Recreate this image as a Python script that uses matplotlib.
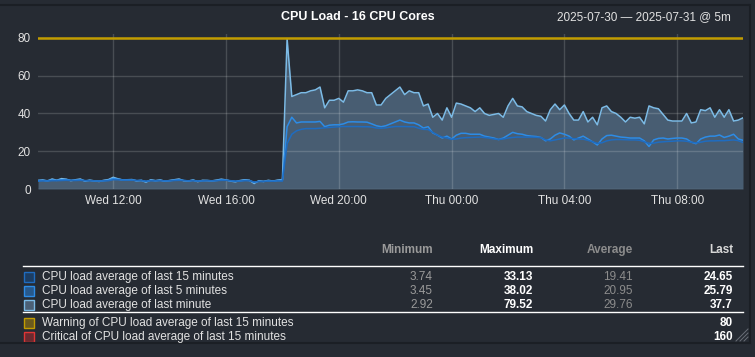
import numpy as np
import pandas as pd
import matplotlib
matplotlib.use('Agg')
import matplotlib.pyplot as plt
import matplotlib.dates as mdates
from matplotlib.patches import Rectangle
from matplotlib.lines import Line2D

# 10 minute samples from Wed 09:20 to Thu 10:20
times = pd.date_range('2025-07-30 09:20', periods=151, freq='10min')

load_1m = [
    4.5, 4.8, 4.2, 5.3, 4.6, 5.5, 5.2, 4.4, 4.9, 5.3,
    4.1, 4.7, 4.3, 4.0, 4.6, 5.0, 6.2, 5.4, 4.8, 4.9,
    5.0, 4.3, 4.6, 3.6, 4.9, 4.4, 4.8, 4.1, 4.5, 4.9,
    5.3, 4.4, 4.2, 4.8, 3.9, 4.6, 4.5, 4.3, 4.7, 5.2,
    4.8, 4.2, 3.8, 4.5, 4.9, 4.6, 2.92, 4.4, 4.0, 4.6,
    4.2, 4.7, 5.0, 79.52, 49.0, 50.0, 51.0, 51.0, 52.0, 52.5,
    54.0, 43.0, 47.0, 47.0, 48.0, 46.0, 52.0, 52.0, 52.5, 52.0,
    51.0, 51.0, 44.5, 44.5, 48.0, 50.0, 52.0, 54.0, 50.0, 52.0,
    51.0, 51.0, 44.0, 45.0, 38.0, 40.0, 36.5, 43.0, 38.0, 45.5,
    45.0, 44.0, 43.0, 41.0, 43.0, 40.0, 39.0, 39.5, 40.0, 38.0,
    44.0, 48.0, 44.0, 43.5, 41.0, 40.0, 39.0, 38.5, 36.0, 42.0,
    45.0, 42.0, 44.5, 40.0, 36.5, 36.5, 41.0, 35.5, 38.0, 34.0,
    43.0, 44.0, 41.0, 40.0, 38.0, 35.5, 38.0, 37.5, 38.0, 34.5,
    44.0, 43.0, 42.5, 39.5, 36.5, 36.0, 36.0, 36.0, 40.0, 35.0,
    35.5, 42.0, 41.5, 43.0, 38.0, 42.0, 38.0, 42.0, 36.0, 36.5,
    37.7,
]

load_5m = [
    4.5, 4.6, 4.4, 4.8, 4.6, 4.9, 5.0, 4.6, 4.7, 4.9,
    4.4, 4.5, 4.3, 4.2, 4.4, 4.7, 5.6, 5.2, 4.8, 4.8,
    4.8, 4.4, 4.5, 3.9, 4.6, 4.4, 4.6, 4.2, 4.4, 4.7,
    4.9, 4.5, 4.3, 4.6, 4.1, 4.4, 4.5, 4.3, 4.5, 4.9,
    4.7, 4.3, 4.0, 4.3, 4.7, 4.5, 3.45, 4.1, 4.0, 4.4,
    4.2, 4.5, 4.6, 33.0, 38.02, 35.0, 35.5, 35.5, 35.5, 35.5,
    35.8, 33.0, 33.8, 34.0, 34.0, 34.5, 35.5, 35.6, 35.5, 35.5,
    35.4, 34.5, 33.5, 33.0, 33.5, 34.5, 35.5, 36.5, 35.5, 35.0,
    35.0, 34.0, 32.3, 33.0, 29.7, 28.5, 27.0, 28.0, 26.5, 28.5,
    29.5, 29.5, 29.0, 29.0, 29.0, 28.0, 27.5, 27.0, 26.2, 27.0,
    28.5, 30.0, 29.3, 29.0, 28.3, 28.0, 27.8, 27.3, 25.5, 26.5,
    28.5, 29.7, 29.0, 28.0, 26.0, 27.0, 28.0, 26.5, 25.0, 23.3,
    26.5, 28.3, 28.5, 28.0, 27.5, 27.3, 27.0, 27.0, 27.0, 25.5,
    22.5, 26.0, 26.8, 27.0, 26.5, 26.8, 27.0, 27.0, 26.5, 24.8,
    24.0, 26.5, 27.5, 28.0, 28.0, 28.6, 27.3, 28.0, 29.0, 26.5,
    25.79,
]

load_15m = [
    4.2, 4.3, 4.2, 4.4, 4.4, 4.5, 4.6, 4.5, 4.5, 4.6,
    4.4, 4.4, 4.3, 4.2, 4.3, 4.4, 4.9, 4.9, 4.7, 4.7,
    4.7, 4.5, 4.5, 4.2, 4.4, 4.3, 4.4, 4.3, 4.3, 4.5,
    4.6, 4.5, 4.3, 4.4, 4.2, 4.3, 4.4, 4.3, 4.4, 4.6,
    4.6, 4.4, 4.2, 4.2, 4.4, 4.4, 3.74, 4.0, 4.0, 4.2,
    4.1, 4.3, 4.2, 24.0, 29.0, 30.8, 31.6, 32.0, 32.0, 32.0,
    32.2, 32.4, 32.6, 32.8, 33.0, 33.1, 33.1, 33.13, 33.1, 33.0,
    33.0, 32.8, 32.3, 32.2, 32.4, 32.8, 33.1, 33.1, 33.1, 33.0,
    33.0, 32.2, 31.6, 31.5, 30.0, 28.5, 27.5, 27.0, 26.3, 26.5,
    27.0, 27.2, 27.3, 27.4, 27.5, 27.3, 27.0, 26.5, 26.2, 26.5,
    27.0, 27.3, 27.5, 27.5, 27.5, 27.5, 27.4, 27.2, 26.0, 25.5,
    26.0, 26.5, 27.0, 27.0, 26.6, 26.5, 26.4, 25.8, 25.0, 24.2,
    24.5, 25.5, 26.0, 26.2, 26.2, 26.1, 26.0, 26.0, 25.8, 25.0,
    24.2, 24.3, 24.8, 25.0, 25.2, 25.3, 25.5, 25.5, 25.3, 24.8,
    24.4, 24.8, 25.3, 25.5, 25.5, 25.6, 25.6, 25.8, 26.0, 25.6,
    24.65,
]

warning_level = 80
critical_level = 160

series_labels = [
    'CPU load average of last 15 minutes',
    'CPU load average of last 5 minutes',
    'CPU load average of last minute',
]
stat_minimum = ['3.74', '3.45', '2.92']
stat_maximum = ['33.13', '38.02', '79.52']
stat_average = ['19.41', '20.95', '29.76']
stat_last = ['24.65', '25.79', '37.7']
threshold_labels = [
    'Warning of CPU load average of last 15 minutes',
    'Critical of CPU load average of last 15 minutes',
]
threshold_last = ['80', '160']

# colours
bg = '#262b33'
text_col = '#e2e2e2'
c15_line, c15_face = '#1f6cc0', '#1d3d62'
c5_line, c5_face = '#2d8ce6', '#27598c'
c1_line, c1_face = '#7cbbe6', '#4b6076'
warn_line, warn_face = '#c29c00', '#6a5a1e'
crit_line, crit_face = '#e03535', '#6a2a30'

plt.rcParams['font.family'] = ['Liberation Sans', 'DejaVu Sans']

W, H = 755, 357
fig = plt.figure(figsize=(W / 100, H / 100), dpi=100, facecolor=bg)


def fx(x):
    return x / W


def fy(y):
    return 1 - y / H


# outer frame
fig.add_artist(Line2D([0, fx(750)], [fy(5), fy(5)], color='#1b1f25', lw=1.5))
fig.add_artist(Line2D([fx(750), fx(750)], [fy(5), fy(343)], color='#1b1f25', lw=1.5))
fig.add_artist(Line2D([0, fx(750)], [fy(343), fy(343)], color='#1b1f25', lw=1.5))

ax = fig.add_axes([fx(38), fy(189), (743 - 38) / W, (189 - 34) / H])
ax.set_facecolor(bg)
for s in ax.spines.values():
    s.set_visible(False)

ax.fill_between(times, load_1m, color=c1_face, alpha=0.95, lw=0, zorder=1)
ax.plot(times, load_1m, color=c1_line, lw=1.1, zorder=2)
ax.plot(times, load_5m, color=c5_line, lw=1.1, zorder=2)
ax.plot(times, load_15m, color=c15_line, lw=1.1, zorder=2)
ax.axhline(warning_level, color=warn_line, lw=1.8, zorder=3)

ax.set_ylim(0, 82.1)
ax.set_xlim(times[0], times[-1])
ax.set_yticks([0, 20, 40, 60, 80])
ax.xaxis.set_major_locator(mdates.HourLocator(byhour=[0, 4, 8, 12, 16, 20]))
ax.xaxis.set_major_formatter(mdates.DateFormatter('%a %H:%M'))
ax.grid(True, color='white', alpha=0.16, lw=1)
ax.set_axisbelow('line')
ax.tick_params(colors=text_col, labelsize=8.5, length=0, pad=4)
ax.tick_params(axis='y', pad=5)

fig.text(fx(358), fy(17), 'CPU Load - 16 CPU Cores', color='white', fontsize=9,
         fontweight='bold', ha='center', va='center')
fig.text(fx(731), fy(17), '2025-07-30 \u2014 2025-07-31 @ 5m', color=text_col,
         fontsize=8.5, ha='right', va='center')

# statistics table
cols = [433, 533, 633, 733]
heads = ['Minimum', 'Maximum', 'Average', 'Last']
head_cols = ['#9a9a9a', '#ffffff', '#8c8c8c', '#d8d8d8']
for x, h, c in zip(cols, heads, head_cols):
    fig.text(fx(x), fy(250), h, color=c, fontsize=8.5, fontweight='bold',
             ha='right', va='center')

fig.add_artist(Line2D([fx(23), fx(743)], [fy(266), fy(266)], color='white', lw=1))
fig.add_artist(Line2D([fx(23), fx(743)], [fy(312), fy(312)], color='white', lw=1))

row_y = [277, 291, 305]
faces = [c15_face, c5_face, c1_face]
edges = [c15_line, c5_line, c1_line]
for i, y in enumerate(row_y):
    fig.add_artist(Rectangle((fx(23.5), fy(y + 5)), 10 / W, 10 / H,
                             facecolor=faces[i], edgecolor=edges[i], lw=1))
    fig.text(fx(42), fy(y), series_labels[i], color=text_col, fontsize=8.5,
             ha='left', va='center')
    fig.text(fx(cols[0]), fy(y), stat_minimum[i], color='#9a9a9a', fontsize=8.5,
             ha='right', va='center')
    fig.text(fx(cols[1]), fy(y), stat_maximum[i], color='white', fontsize=8.5,
             fontweight='bold', ha='right', va='center')
    fig.text(fx(cols[2]), fy(y), stat_average[i], color='#8c8c8c', fontsize=8.5,
             ha='right', va='center')
    fig.text(fx(cols[3]), fy(y), stat_last[i], color='white', fontsize=8.5,
             fontweight='bold', ha='right', va='center')

th_y = [323, 337]
th_faces = [warn_face, crit_face]
th_edges = [warn_line, crit_line]
for i, y in enumerate(th_y):
    fig.add_artist(Rectangle((fx(23.5), fy(y + 5)), 10 / W, 10 / H,
                             facecolor=th_faces[i], edgecolor=th_edges[i], lw=1))
    fig.text(fx(42), fy(y), threshold_labels[i], color=text_col, fontsize=8.5,
             ha='left', va='center')
    fig.text(fx(cols[3]), fy(y), threshold_last[i], color='white', fontsize=8.5,
             fontweight='bold', ha='right', va='center')

# resize grip
for d in [4, 8, 12]:
    fig.add_artist(Line2D([fx(748 - d), fx(748)], [fy(341), fy(341 - d)],
                          color='#6a6f78', lw=0.7))

fig.savefig('out.png', dpi=100, facecolor=bg)
